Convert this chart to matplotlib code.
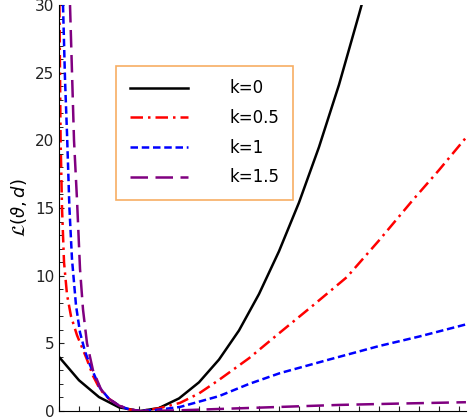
import matplotlib
matplotlib.use("Agg")
import matplotlib.pyplot as plt
from matplotlib.ticker import MultipleLocator

x_k0 = [0, 1, 2, 3, 4.05, 5, 6, 7, 8, 9, 10, 11, 12, 13, 14, 15, 15.3]
y_k0 = [4.0, 2.27, 1.03, 0.27, 0, 0.22, 0.93, 2.12, 3.8, 5.95, 8.64, 11.8, 15.4, 19.5, 24.1, 29.3, 30.9]
x_k05 = [0.02, 0.08, 0.15, 0.25, 0.4, 0.6, 0.9, 1.4, 1.7, 2.05, 2.5, 3, 3.5, 4.05, 5, 6.05, 7, 8, 9.5, 11.05, 12.7, 14.4, 16, 17.7, 19, 20.35]
y_k05 = [30, 20, 15, 11, 8.6, 7.0, 5.6, 3.8, 2.6, 1.6, 0.9, 0.4, 0.12, 0, 0.2, 0.6, 1.3, 2.3, 3.9, 5.8, 7.8, 9.9, 12.6, 15.6, 17.8, 20.2]
x_k1 = [0.2, 0.3, 0.4, 0.52, 0.65, 0.85, 1.05, 1.3, 1.55, 2.05, 2.5, 3, 3.5, 4.05, 5, 6.05, 8, 9.5, 11.05, 13.5, 16, 18, 20.35]
y_k1 = [30, 24.5, 20.5, 15, 11.2, 7.8, 5.8, 4.4, 3.4, 1.7, 0.9, 0.4, 0.12, 0, 0.1, 0.3, 1.1, 2.0, 2.8, 3.8, 4.8, 5.5, 6.4]
x_k15 = [0.55, 0.65, 0.75, 0.9, 1.05, 1.2, 1.4, 1.7, 2.1, 2.5, 3, 3.5, 4.05, 6, 8, 11, 14, 17, 20.35]
y_k15 = [30, 25, 20, 15.6, 10.5, 7.5, 5.0, 3.0, 1.6, 0.9, 0.4, 0.12, 0, 0.05, 0.15, 0.3, 0.45, 0.55, 0.65]
labels = ["k=0", "k=0.5", "k=1", "k=1.5"]

fig = plt.figure(figsize=(4.74, 4.18), dpi=100)
ax = fig.add_axes([0.1245, 0.0167, 0.8585, 0.9713])
ax.plot(x_k0, y_k0, color="black", lw=1.8, ls="-", label=labels[0])
ax.plot(x_k05, y_k05, color="red", lw=1.8, ls=(0, (5, 2, 1, 2)), label=labels[1])
ax.plot(x_k1, y_k1, color="blue", lw=1.8, ls=(0, (3, 1.5)), label=labels[2])
ax.plot(x_k15, y_k15, color="purple", lw=1.8, ls=(0, (7, 3)), label=labels[3])
ax.set_xlim(0, 20.35)
ax.set_ylim(0, 30)
ax.spines["top"].set_visible(False)
ax.spines["right"].set_visible(False)
ax.xaxis.set_major_locator(MultipleLocator(1))
ax.set_xticklabels([])
ax.yaxis.set_major_locator(MultipleLocator(5))
ax.yaxis.set_minor_locator(MultipleLocator(1))
ax.tick_params(direction="in", labelsize=11, colors="#222222")
ax.tick_params(which="minor", direction="in", length=3)
ax.set_ylabel(r"$\mathcal{L}(\vartheta,d)$", fontsize=13)
leg = ax.legend(loc="upper left", bbox_to_anchor=(0.12, 0.87), fontsize=12,
                frameon=True, fancybox=False, edgecolor="#f59a3c",
                handlelength=3.5, handletextpad=2.5, borderpad=0.8, labelspacing=0.7)
leg.get_frame().set_linewidth(1.2)
fig.savefig("out.png", dpi=100)
